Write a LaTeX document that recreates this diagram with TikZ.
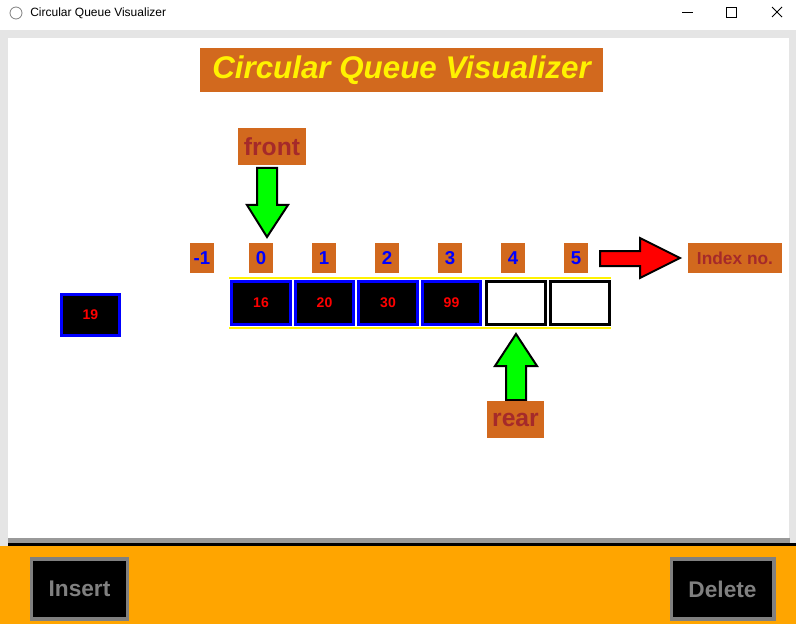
\documentclass[tikz,border=0pt]{standalone}
\usepackage{fontspec}
\setmainfont{Liberation Sans}
\definecolor{chocol}{HTML}{D2691E}
\definecolor{brownt}{HTML}{A52A2A}
\definecolor{orng}{HTML}{FFA500}
\definecolor{lgreen}{HTML}{00FF00}
\begin{document}
\begin{tikzpicture}[x=0.75pt,y=-0.75pt,
  lbl/.style={fill=chocol,inner sep=0pt,font=\bfseries},
  idx/.style={lbl,minimum width=18pt,minimum height=22.5pt,text=blue,font=\bfseries\fontsize{14}{14}\selectfont},
  full/.style={draw=blue,line width=2.2pt,fill=black,text=red,font=\bfseries\fontsize{10.5}{10.5}\selectfont,inner sep=0pt},
  empt/.style={draw=black,line width=2.2pt,fill=white,inner sep=0pt},
  btn/.style={fill=black,draw=gray,line width=2.5pt,text=gray,font=\bfseries\fontsize{17}{17}\selectfont,inner sep=0pt},
  arr/.style={draw=black,line width=1.5pt,line join=miter}]
\useasboundingbox (0,0) rectangle (796,624);
\fill[white] (0,0) rectangle (796,30);
\node[anchor=west,font=\fontsize{9}{9}\selectfont,inner sep=0pt] (ttl) at (30,13) {Circular Queue Visualizer};
\draw[gray,line width=0.6pt] (16,13) circle (6);
\draw[line width=0.6pt] (682,12) -- (693,12);
\draw[line width=0.6pt] (726,7) rectangle (736,17);
\draw[line width=0.6pt] (772,7) -- (782,17) (772,17) -- (782,7);
% canvas
\fill[black!10] (0,30) rectangle (796,546);
\fill[black!40] (8,538) rectangle (790,544);
\fill[black] (8,543) rectangle (796,546);
\fill[white] (8,38) rectangle (789,538);
\fill[orng] (0,546) rectangle (796,624);
% title
\node[lbl,minimum width=302pt,minimum height=33pt,text=yellow,font=\bfseries\itshape\fontsize{23.5}{23.5}\selectfont] (title) at (401.5,70) {Circular Queue Visualizer};
% front
\node[lbl,minimum width=51pt,minimum height=28pt,text=brownt,font=\bfseries\fontsize{18.5}{18.5}\selectfont] (front) at (272,146.5) {front};
\draw[arr,fill=lgreen] (257,168) -- (277,168) -- (277,205) -- (288,205) -- (267,237) -- (247,205) -- (257,205) -- cycle;
% indexes
\foreach \i/\x in {-1/202,0/261,1/324,2/387,3/450,4/513,5/576}
  \node[idx] (i\i) at (\x,258) {\i};
\draw[arr,fill=red] (600,251) -- (640,251) -- (640,238) -- (680,258) -- (640,278) -- (640,266) -- (600,266) -- cycle;
\node[lbl,minimum width=70.5pt,minimum height=22.5pt,text=brownt,font=\bfseries\fontsize{13}{13}\selectfont] (ino) at (735,258) {Index no.};
% queue
\draw[yellow,line width=2.2pt] (229,278) -- (611,278) (229,328) -- (611,328);
\foreach \n/\x/\v in {0/261/16,1/324.5/20,2/388/30,3/451.5/99}
  \node[full,minimum width=44pt,minimum height=32pt] (c\n) at (\x,303) {\v};
\node[empt,minimum width=44pt,minimum height=32pt] (c4) at (516,303) {};
\node[empt,minimum width=44pt,minimum height=32pt] (c5) at (580,303) {};
\node[full,minimum width=43pt,minimum height=31pt] (nv) at (90.5,315) {19};
% rear
\draw[arr,fill=lgreen] (516,334) -- (537,366) -- (526,366) -- (526,400) -- (506,400) -- (506,366) -- (495,366) -- cycle;
\node[lbl,minimum width=43pt,minimum height=28pt,text=brownt,font=\bfseries\fontsize{18.5}{18.5}\selectfont] (rear) at (515.5,419.5) {\raisebox{-2pt}{rear}};
% buttons
\node[btn,minimum width=72pt,minimum height=45pt] (ins) at (79.5,589) {Insert};
\node[btn,minimum width=77pt,minimum height=45pt] (del) at (722.5,589) {Delete};
\end{tikzpicture}
\end{document}
